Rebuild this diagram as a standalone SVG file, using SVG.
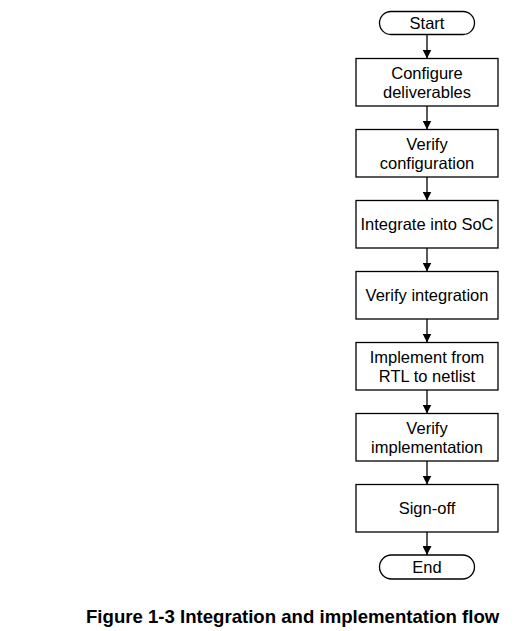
<svg xmlns="http://www.w3.org/2000/svg" width="528" height="631" viewBox="0 0 528 631">
<defs>
<marker id="ah" markerWidth="9" markerHeight="9" refX="9" refY="4.5" orient="auto" markerUnits="userSpaceOnUse">
<path d="M0,0 L9,4.5 L0,9 Z" fill="#000"/>
</marker>
</defs>
<style>
.box{fill:#fff;stroke:#000;stroke-width:1.3}
.t{font-family:"Liberation Sans",Arial,sans-serif;font-size:16.5px;fill:#000;text-anchor:middle}
.c{stroke:#000;stroke-width:1.3;fill:none;marker-end:url(#ah)}
.cap{font-family:"Liberation Sans",Arial,sans-serif;font-size:18.6px;font-weight:bold;fill:#000}
</style>
<rect width="528" height="631" fill="#fff"/>
<g id="connectors">
<line class="c" x1="427" y1="34.5" x2="427" y2="58.5"/>
<line class="c" x1="427" y1="106" x2="427" y2="129.5"/>
<line class="c" x1="427" y1="177" x2="427" y2="200.5"/>
<line class="c" x1="427" y1="248" x2="427" y2="271.5"/>
<line class="c" x1="427" y1="319" x2="427" y2="342.5"/>
<line class="c" x1="427" y1="390" x2="427" y2="413.5"/>
<line class="c" x1="427" y1="461" x2="427" y2="484.5"/>
<line class="c" x1="427" y1="532" x2="427" y2="555"/>
</g>
<g id="start">
<rect class="box" x="379.5" y="11.5" width="95" height="23" rx="11.5"/>
<text class="t" x="427" y="29">Start</text>
</g>
<g id="configure">
<rect class="box" x="356" y="58.5" width="142" height="47.5"/>
<text class="t" x="427" y="78.5">Configure</text>
<text class="t" x="427" y="97.5">deliverables</text>
</g>
<g id="verify-config">
<rect class="box" x="356" y="129.5" width="142" height="47.5"/>
<text class="t" x="427" y="149.5">Verify</text>
<text class="t" x="427" y="168.5">configuration</text>
</g>
<g id="integrate">
<rect class="box" x="356" y="200.5" width="142" height="47.5"/>
<text class="t" x="427" y="230">Integrate into SoC</text>
</g>
<g id="verify-integration">
<rect class="box" x="356" y="271.5" width="142" height="47.5"/>
<text class="t" x="427" y="301">Verify integration</text>
</g>
<g id="implement">
<rect class="box" x="356" y="342.5" width="142" height="47.5"/>
<text class="t" x="427" y="362.5">Implement from</text>
<text class="t" x="427" y="381.5">RTL to netlist</text>
</g>
<g id="verify-implementation">
<rect class="box" x="356" y="413.5" width="142" height="47.5"/>
<text class="t" x="427" y="433.5">Verify</text>
<text class="t" x="427" y="452.5">implementation</text>
</g>
<g id="signoff">
<rect class="box" x="356" y="484.5" width="142" height="47.5"/>
<text class="t" x="427" y="514">Sign-off</text>
</g>
<g id="end">
<rect class="box" x="379.5" y="555" width="95" height="24" rx="12"/>
<text class="t" x="427" y="573">End</text>
</g>
<text class="cap" x="86" y="622.5">Figure 1-3 Integration and implementation flow</text>
</svg>
